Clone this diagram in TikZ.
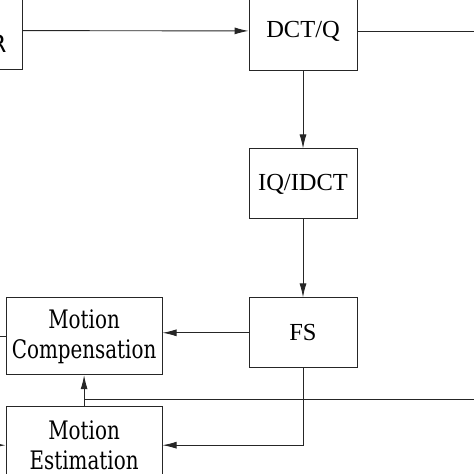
\documentclass[tikz,border=0pt]{standalone}
\usepackage{fontspec}
\setmainfont{Liberation Serif}
\newfontfamily\motionfont[FakeStretch=0.78]{DejaVu Serif}
\newfontfamily\sansfont{DejaVu Sans}
\usepackage{tikz}
\usetikzlibrary{arrows.meta, positioning}
\tikzstyle{block} = [rectangle, 
minimum width=108pt, 
minimum height=70pt, 
text centered, 
draw=black!85, 
line width=0.9pt,
font=\fontsize{24.5}{30}\selectfont]
\tikzstyle{motion} = [block, 
minimum width=156pt, 
minimum height=77pt, 
align=center, 
font=\fontsize{25.5}{30}\selectfont\motionfont]
\tikzstyle{line} = [draw=black!85, line width=0.9pt]
\tikzstyle{arrow} = [line, ->, >={Latex[length=14pt,width=7pt]}]

\begin{document}
\begin{tikzpicture}[x=1pt, y=1pt]
\clip (0,0) rectangle (474,474);
\useasboundingbox (0,0) rectangle (474,474);

\node (dct) [block, minimum height=78pt] at (303,443) {DCT/Q};
\node (iq) [block, below=78pt of dct] {IQ/IDCT};
\node (fs) [block, below=78pt of iq] {FS};
\node (mc) [motion, left=86pt of fs, yshift=-3.5pt] {Motion\\Compensation};
\node (me) [motion, below=31pt of mc] {Motion\\Estimation};
\node (src) [block, minimum width=90pt, minimum height=78pt, anchor=south east] at (23,404) {};
\node (srctext) [anchor=base east, font=\fontsize{24}{30}\selectfont\sansfont] at (10,421) {R};

\coordinate [right=140pt of dct] (dctout);
\coordinate [left=30pt of mc] (mcout);
\coordinate [left=30pt of me] (mein);
\coordinate [below=24pt of mc.south] (junc);
\coordinate [right=420pt of junc] (mvin);

\draw [arrow] (src) -- (dct);
\draw [arrow] (dct) -- (dctout);
\draw [arrow] (dct) -- (iq);
\draw [arrow] (iq) -- (fs);
\draw [arrow] (fs) -- (fs -| mc.east);
\draw [arrow] (fs.south) |- (me.east);
\draw [arrow] (me) -- (mc);
\draw [line] (mvin) -- (junc);
\draw [line] (mc) -- (mcout);
\draw [arrow] (mein) -- (me);

\end{tikzpicture}
\end{document}
